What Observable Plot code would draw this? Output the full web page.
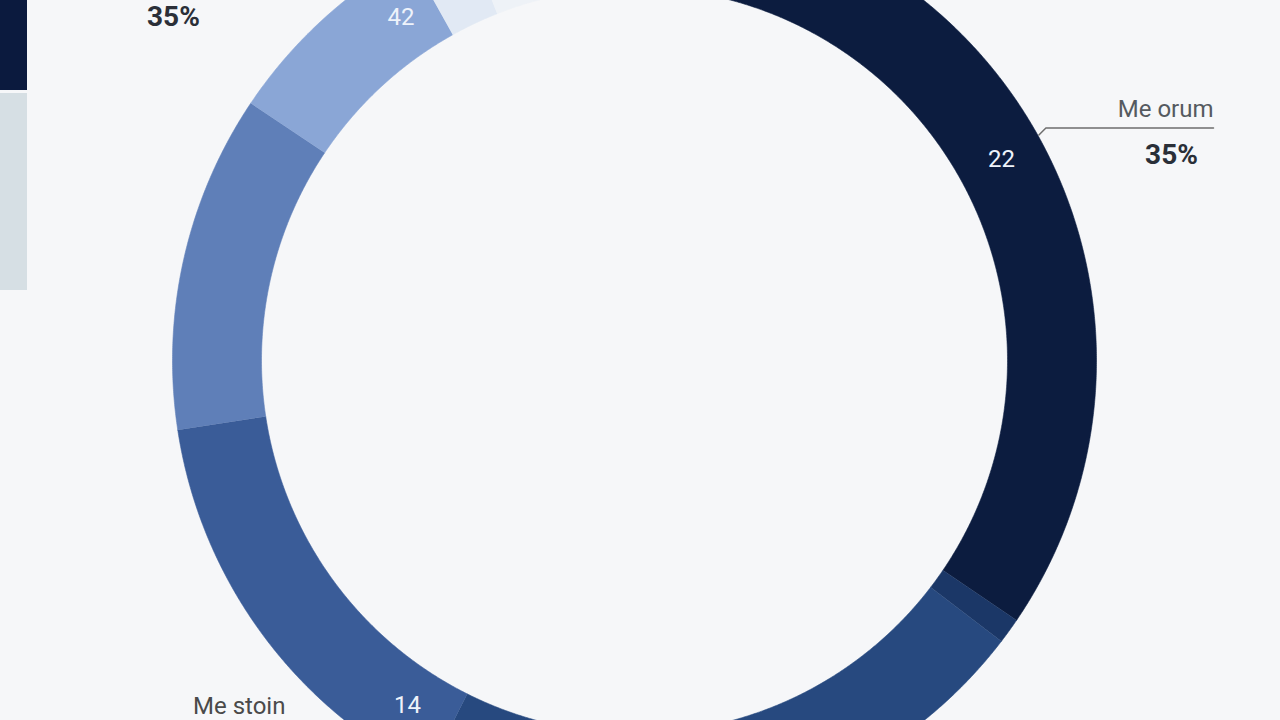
<!DOCTYPE html>
<html><head><meta charset="utf-8">
<script src="https://cdn.jsdelivr.net/npm/d3@7"></script>
<script src="https://cdn.jsdelivr.net/npm/@observablehq/plot@0.6"></script>
<style>
html,body{margin:0;padding:0;background:#f6f7f9;}
#wrap{position:relative;width:1280px;height:720px;overflow:hidden;font-family:Roboto,"Noto Sans",sans-serif;}
#chart{position:absolute;left:0;top:0;}
.sw{position:absolute;left:0;width:27px;}
.note{position:absolute;white-space:nowrap;line-height:1;}
</style></head><body>
<div id="wrap"><div id="chart"></div></div>
<script>
// ---- data ----
const categories = ["Me orum", "Segment B", "Segment C", "Me stoin", "Segment E", "Segment F", "Segment G", "Segment H"];
const shares     = [34.5, 0.9, 22.0, 15.2, 11.8, 7.5, 2.1, 6.0];
const colors     = ["#0c1c3f", "#1b3767", "#27497f", "#3a5c98", "#5f7fb8", "#8aa6d6", "#e1e9f4", "#eef2f7"];
const ringLabels = ["22", "", "", "14", "", "42", "", ""];
const ringLabelAt = [0.49, 0.5, 0.5, 0.12, 0.5, 0.81, 0.5, 0.5];
const calloutName = "Me orum";
const calloutValue = "35%";
const sideTexts = ["35%", "Me stoin"];
const legendColors = ["#0b1a3e", "#d6dfe4"];

// ---- geometry ----
const W = 1280, H = 720, cx = 634, cy = 360, r0 = 373, r1 = 462, rl = 418;
const total = d3.sum(shares);
const pt = (a, r) => ({x: cx + r * Math.sin(a), y: cy - r * Math.cos(a)});
let acc = 0;
const slices = shares.map((v, i) => {
  const a0 = acc / total * 2 * Math.PI; acc += v;
  const a1 = acc / total * 2 * Math.PI;
  return {i, cat: categories[i], a0, a1, color: colors[i]};
});
const verts = [];
for (const s of slices) {
  const n = Math.max(4, Math.ceil((s.a1 - s.a0) / 0.004));
  for (let k = 0; k <= n; k++) { const a = s.a0 + (s.a1 - s.a0) * k / n; verts.push({...pt(a, r1), cat: s.cat, color: s.color}); }
  for (let k = n; k >= 0; k--) { const a = s.a0 + (s.a1 - s.a0) * k / n; verts.push({...pt(a, r0), cat: s.cat, color: s.color}); }
}
const labelPts = slices.filter(s => ringLabels[s.i]).map(s => {
  const a = s.a0 + (s.a1 - s.a0) * ringLabelAt[s.i];
  const p = pt(a, rl);
  // keep labels inside the frame
  return {x: p.x, y: Math.min(p.y + 2, H - 15), t: ringLabels[s.i]};
});
// leader line from first slice (callout)
const s0 = slices[0];
const anchor = pt(s0.a0 + (s0.a1 - s0.a0) * ringLabelAt[0], r1 + 1);
const elbow = {x: anchor.x + 7, y: anchor.y - 7};
const leader = [anchor, elbow, {x: 1213, y: elbow.y}];

const chart = Plot.plot({
  width: W, height: H, margin: 0,
  x: {domain: [0, W], range: [0, W], axis: null},
  y: {domain: [0, H], range: [0, H], axis: null},
  color: {type: "identity"},
  style: {background: "transparent", fontFamily: "Roboto, 'Noto Sans', sans-serif", overflow: "visible"},
  marks: [
    Plot.line(verts, {x: "x", y: "y", z: "cat", fill: "color", stroke: "color", strokeWidth: 0.6}),
    Plot.text(labelPts, {x: "x", y: "y", text: "t", fill: "#eef3fb", fontSize: 24, dx: 2}),
    Plot.line(leader, {x: "x", y: "y", stroke: "#6e6e6e", strokeWidth: 1.5}),
    Plot.text([{x: 1213, y: elbow.y - 19, t: calloutName}], {x: "x", y: "y", text: "t", textAnchor: "end", fontSize: 24, fill: "#555a60"}),
    Plot.text([{x: 1171, y: elbow.y + 27, t: calloutValue}], {x: "x", y: "y", text: "t", fontSize: 28, fontWeight: "bold", fill: "#2a2f38"})
  ]
});
document.getElementById("chart").appendChild(chart);

// legend swatches (cut at left edge) and side labels
const wrap = document.getElementById("wrap");
const swPos = [[0, 90], [93, 197]];
legendColors.forEach((c, i) => {
  const d = document.createElement("div");
  d.className = "sw"; d.style.top = swPos[i][0] + "px"; d.style.height = swPos[i][1] + "px"; d.style.background = c;
  wrap.appendChild(d);
});
const n1 = document.createElement("div");
n1.className = "note"; n1.textContent = sideTexts[0];
Object.assign(n1.style, {left: "147px", top: "3px", fontSize: "28px", fontWeight: "700", color: "#2b2f38"});
wrap.appendChild(n1);
const n2 = document.createElement("div");
n2.className = "note"; n2.textContent = sideTexts[1];
Object.assign(n2.style, {left: "193px", top: "694px", fontSize: "24px", color: "#4a4a4a"});
wrap.appendChild(n2);
</script>
</body></html>
